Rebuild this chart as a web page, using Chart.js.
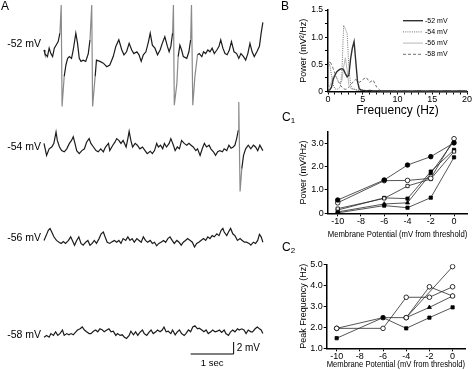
<!DOCTYPE html>
<html>
<head>
<meta charset="utf-8">
<script src="https://cdn.jsdelivr.net/npm/chart.js@4.4.0/dist/chart.umd.min.js"></script>
<style>
html, body { margin: 0; padding: 0; background: #fff; }
body { width: 474px; height: 370px; position: relative; overflow: hidden; font-family: "Liberation Sans", Arial, sans-serif; }
canvas { position: absolute; }
.panel { position: absolute; font-size: 12px; line-height: 12px; color: #000; }
.panel sub { font-size: 8px; vertical-align: -2px; }
</style>
</head>
<body>
<canvas id="traces" width="280" height="370" style="left:0px;top:0px"></canvas>
<canvas id="spectra" width="194" height="118" style="left:280px;top:0px"></canvas>
<canvas id="powerChart" width="194" height="120" style="left:280px;top:120px"></canvas>
<canvas id="freqChart" width="194" height="126" style="left:280px;top:244px"></canvas>
<div class="panel" style="left:1px;top:0px">A</div>
<div class="panel" style="left:281px;top:0px">B</div>
<div class="panel" style="left:282px;top:111px">C<sub>1</sub></div>
<div class="panel" style="left:282px;top:241px">C<sub>2</sub></div>
<script>
// --- A: membrane potential sweeps (time in s, voltage in mV relative to holding level)
const traceNames = ["-52 mV", "-54 mV", "-56 mV", "-58 mV"];

const t52 = [0.00,0.02,0.08,0.12,0.16,0.20,0.24,0.28,0.33,0.37,0.40,0.42,0.47,0.51,0.55,0.59,0.64,0.68,0.74,0.78,
  0.82,0.86,0.91,0.97,1.03,1.07,1.11,1.13,1.19,1.22,1.30,1.38,1.46,1.53,1.61,1.67,1.74,1.81,1.86,1.92,
  1.98,2.04,2.09,2.16,2.21,2.26,2.31,2.37,2.43,2.47,2.52,2.58,2.64,2.70,2.75,2.81,2.87,2.91,2.95,2.99,
  3.01,3.03,3.09,3.12,3.16,3.20,3.24,3.32,3.37,3.41,3.43,3.46,3.51,3.57,3.61,3.67,3.71,3.76,3.81,3.86,
  3.91,3.96,4.02,4.07,4.11,4.16,4.21,4.26,4.31,4.36,4.42,4.48,4.53,4.58,4.64,4.69,4.74,4.79,4.84,4.89,
  4.95,5.01,5.05,5.09];
const mv52 = [0.0,-0.6,-1.1,0.3,-0.6,-1.1,0.3,0.8,1.4,2.8,7.5,-9.4,-4.4,-2.5,-1.4,-1.1,-1.4,0.0,2.8,1.1,
  -1.4,-1.9,-1.7,-1.9,-0.6,1.7,7.5,-9.4,-4.4,-1.7,-1.9,-2.2,-2.8,-2.5,-1.1,0.6,1.7,0.0,-0.8,-0.3,
  1.1,0.0,-0.6,-0.3,-0.8,-1.9,-0.8,-0.3,1.4,2.8,0.8,0.3,-0.8,0.0,1.1,2.2,0.6,-0.3,0.6,2.8,
  7.5,-9.2,-5.6,-1.1,0.8,0.0,-1.1,-1.4,-0.3,1.7,7.5,-9.2,-4.4,-0.8,-0.6,-1.1,-0.3,-0.6,0.0,-0.3,
  0.3,-0.6,0.0,0.6,1.7,0.3,-0.6,-0.8,0.0,1.4,-0.3,-0.6,-1.4,-0.6,-1.1,-1.7,-0.6,1.1,-0.3,-1.1,
  -0.3,0.6,2.8,4.6];

const t54 = [0.00,0.06,0.12,0.18,0.23,0.28,0.31,0.36,0.41,0.47,0.53,0.59,0.64,0.68,0.72,0.76,0.82,0.88,0.94,0.99,
  1.05,1.09,1.15,1.21,1.26,1.32,1.38,1.43,1.50,1.53,1.60,1.65,1.69,1.74,1.79,1.84,1.91,1.95,1.98,2.02,
  2.06,2.12,2.17,2.23,2.29,2.35,2.40,2.47,2.52,2.57,2.62,2.66,2.71,2.76,2.80,2.85,2.91,2.95,3.01,3.05,
  3.10,3.15,3.20,3.26,3.32,3.37,3.42,3.47,3.53,3.57,3.63,3.68,3.73,3.78,3.84,3.88,3.94,3.99,4.04,4.09,
  4.15,4.19,4.25,4.30,4.35,4.40,4.44,4.48,4.52,4.53,4.56,4.60,4.64,4.69,4.75,4.81,4.87,4.92,4.97,5.02,
  5.09];
const mv54 = [0.6,-1.4,-0.3,0.0,0.6,2.5,1.1,0.0,-0.6,-0.8,-0.3,0.6,1.1,1.7,0.6,-0.6,-1.1,-0.6,-0.3,0.8,
  1.4,0.6,0.0,-0.6,-0.8,-0.3,-0.8,0.0,0.6,-0.6,0.3,0.8,1.4,1.1,0.6,1.1,0.0,1.4,2.6,1.1,
  0.0,0.6,0.3,-0.3,0.0,-0.6,-1.1,-0.7,-1.1,-0.6,0.6,0.0,0.3,-0.3,0.6,0.0,0.6,1.4,0.3,-0.6,
  0.0,-0.3,1.1,0.6,0.3,0.6,0.3,0.0,-0.6,-0.3,-1.4,-0.3,0.6,0.0,0.3,-0.3,-0.8,-1.4,-0.8,-0.6,
  -0.8,-0.3,-0.6,0.3,-0.2,0.0,0.3,1.4,2.8,7.5,-7.4,-3.6,-1.4,-0.3,0.3,-0.3,0.3,0.0,-0.6,0.3,
  -0.6];

const t56 = [0.00,0.05,0.10,0.14,0.18,0.23,0.29,0.35,0.40,0.45,0.50,0.57,0.62,0.66,0.71,0.76,0.81,0.86,0.91,0.97,
  1.02,1.07,1.12,1.17,1.22,1.28,1.33,1.38,1.42,1.47,1.53,1.59,1.64,1.69,1.74,1.79,1.84,1.90,1.95,2.00,
  2.05,2.10,2.16,2.21,2.26,2.31,2.36,2.41,2.47,2.52,2.57,2.62,2.67,2.72,2.78,2.83,2.88,2.93,2.98,3.03,
  3.09,3.14,3.19,3.24,3.29,3.34,3.40,3.45,3.50,3.55,3.60,3.65,3.71,3.76,3.81,3.86,3.91,3.96,4.02,4.07,
  4.12,4.16,4.19,4.25,4.29,4.34,4.39,4.44,4.50,4.56,4.61,4.66,4.71,4.77,4.81,4.87,4.92,4.97,5.01,5.05,
  5.09];
const mv56 = [-0.4,0.4,1.3,1.6,1.0,0.2,-0.4,-0.7,-0.9,-0.6,-0.9,-0.4,0.2,-0.4,-1.2,-0.4,0.2,-0.9,-1.2,-0.7,
  -0.4,-1.2,-0.9,-0.4,-0.9,-0.1,0.7,1.0,0.2,-0.7,-0.9,-0.6,-0.4,-0.7,-0.4,-0.9,-0.1,-0.4,0.2,-0.4,
  -0.1,-0.7,-0.1,-0.4,-0.7,0.2,-0.4,-0.7,-0.4,-0.9,-0.7,-1.3,-0.9,-0.7,-0.4,-0.7,-0.1,0.2,-0.4,-0.9,
  -0.4,-0.7,-1.2,-0.7,-0.4,-0.1,-0.4,-0.7,-1.5,-0.9,-0.7,-0.4,-0.1,-0.4,0.2,-0.1,0.4,0.2,0.7,0.4,
  1.3,1.6,1.0,0.4,1.0,1.6,0.7,0.4,-0.4,-0.1,-0.4,-0.7,-0.7,-0.9,-1.2,-0.7,-0.9,-0.4,0.6,0.2,
  -0.7];

const t58 = [0.00,0.06,0.12,0.16,0.22,0.27,0.32,0.37,0.43,0.47,0.53,0.58,0.63,0.68,0.74,0.78,0.84,0.89,0.94,0.99,
  1.05,1.09,1.15,1.20,1.25,1.30,1.36,1.40,1.46,1.51,1.56,1.61,1.67,1.71,1.77,1.82,1.87,1.92,1.98,2.02,
  2.08,2.13,2.18,2.23,2.29,2.33,2.39,2.44,2.49,2.54,2.60,2.64,2.70,2.75,2.79,2.84,2.89,2.95,2.99,3.05,
  3.10,3.15,3.20,3.26,3.30,3.36,3.41,3.46,3.51,3.57,3.61,3.67,3.72,3.77,3.82,3.88,3.92,3.98,4.03,4.08,
  4.13,4.19,4.23,4.29,4.34,4.39,4.44,4.50,4.54,4.60,4.65,4.70,4.75,4.81,4.85,4.91,4.96,5.01,5.05,5.09];
const mv58 = [-0.6,-0.3,-0.6,0.0,-0.3,0.3,-0.3,0.0,0.6,-0.3,0.0,-0.2,0.0,-0.2,0.3,0.6,0.8,1.1,0.6,0.3,
  0.0,0.0,0.4,0.6,0.3,0.8,0.6,0.3,0.6,0.8,0.3,0.4,-0.3,0.0,-0.3,-0.2,-0.6,-0.8,-0.3,0.4,
  -0.2,0.3,-0.3,0.2,0.6,0.0,-0.3,0.2,0.6,0.0,0.3,0.6,0.3,0.6,1.1,0.3,0.4,0.0,0.6,-0.2,
  0.3,0.6,0.0,-0.3,0.0,0.6,0.3,1.1,1.3,0.8,0.9,0.6,0.3,0.6,0.0,0.3,0.6,0.3,0.4,0.6,
  0.2,0.6,0.0,-0.3,0.3,0.6,0.3,0.8,0.6,0.8,0.6,0.0,0.6,0.3,0.3,0.8,1.1,0.8,0.6,0.0];

// scale bar
const barSec = 1, barMv = 2;

// --- B: power spectra
const freqHz = [0,0.25,0.5,0.75,1,1.25,1.5,1.75,2,2.25,2.5,2.75,3,3.25,3.5,3.75,4,4.25,4.5,4.75,
  5,5.5,6,6.5,7,7.5,8,9,10,11,12,13,14,15,16,17,18,19,20];
const pow52 = [0.02,0.03,0.08,0.22,0.30,0.36,0.39,0.41,0.42,0.40,0.33,0.27,0.30,0.60,0.80,0.92,0.55,0.18,0.05,0.03,
  0.02,0.01,0.02,0.01,0.01,0.01,0.01,0.01,0.005,0.01,0.005,0.01,0.005,0.01,0.005,0.01,0.005,0.01,0.005];
const pow54 = [0.45,0.50,0.30,0.12,0.05,0.04,0.05,0.08,0.35,1.22,1.15,1.07,0.45,0.12,0.05,0.04,0.03,0.03,0.02,0.02,
  0.02,0.01,0.01,0.01,0.01,0.01,0.01,0.01,0.01,0.01,0.01,0.01,0.01,0.01,0.01,0.01,0.01,0.01,0.01];
const pow56 = [0.05,0.10,0.18,0.28,0.30,0.25,0.18,0.15,0.20,0.45,0.62,0.40,0.12,0.06,0.04,0.05,0.03,0.02,0.02,0.02,
  0.03,0.02,0.02,0.01,0.02,0.01,0.01,0.01,0.01,0.01,0.01,0.01,0.01,0.01,0.01,0.01,0.01,0.01,0.01];
const pow58 = [0.50,0.56,0.50,0.42,0.33,0.25,0.18,0.12,0.08,0.05,0.04,0.05,0.08,0.12,0.16,0.20,0.22,0.20,0.17,0.19,
  0.22,0.26,0.17,0.21,0.08,0.02,0.01,0.01,0.01,0.01,0.01,0.01,0.01,0.01,0.01,0.01,0.01,0.01,0.01];
const freqTickLabels = [0, 5, 10, 15, 20];
const powTickLabels = [0, 0.5, 1.0, 1.5];

// --- C1 / C2: power and peak frequency vs membrane potential, one series per cell
const vmFromThreshold = [-10, -6, -4, -2, 0];
const powerCells = [
  [0.57, 1.43, 2.07, 2.43, 3.02],
  [0.45, 1.40, 1.41, 1.50, 3.20],
  [0.20, 0.64, 1.17, 1.47, 2.65],
  [0.14, 0.66, 0.63, 1.79, 2.72],
  [0.06, 0.40, 0.45, 1.71, 3.10],
  [0.02, 0.33, 0.24, 0.67, 2.40]
];
const peakFreqCells = [
  [1.95, 1.95, 3.43, 3.43, 3.93],
  [1.48, 2.46, 1.95, 2.46, 2.95],
  [1.95, 2.46, 2.46, 3.93, 3.49],
  [null, null, 2.46, null, 4.89],
  [null, null, 2.46, 2.95, 3.49]
];
const vmTickLabels = [-10, -8, -6, -4, -2, 0];
const c1TickLabels = [0, 1, 2, 3];
const c2TickLabels = [1, 2, 3, 4, 5];

// ---------------------------------------------------------------------------
const FONT = '"Liberation Sans", Arial, sans-serif';
Chart.defaults.font.family = FONT;
Chart.defaults.color = "#000";
Chart.defaults.animation = false;

// offsets that stack the sweeps on the page (mV, in plot units)
const sweepOffset = [-8.33, -24.5, -39.67, -55.6];
const sweepLabelShift = [-6, 0, 0, 2];
const sweeps = [[t52, mv52], [t54, mv54], [t56, mv56], [t58, mv58]];
const barStart = { t: 3.41, mv: -59 };

const sweepText = {
    id: "sweepText",
    afterDraw(chart) {
        const { ctx, scales: { x, y } } = chart;
        ctx.save();
        ctx.fillStyle = "#000";
        ctx.font = "10.5px " + FONT;
        ctx.textAlign = "right";
        ctx.textBaseline = "middle";
        traceNames.forEach((name, i) => {
            ctx.fillText(name, x.getPixelForValue(0) - 3, y.getPixelForValue(sweepOffset[i]) + sweepLabelShift[i]);
        });
        // scale bar labels
        ctx.font = "10px " + FONT;
        ctx.textAlign = "left";
        ctx.fillText(barMv + " mV", x.getPixelForValue(barStart.t + barSec) + 3, y.getPixelForValue(barStart.mv + barMv / 2));
        ctx.font = "9.5px " + FONT;
        ctx.textAlign = "center";
        ctx.fillText(barSec + " sec", x.getPixelForValue(barStart.t + barSec / 2), y.getPixelForValue(barStart.mv) + 9);
        ctx.restore();
    }
};

// fast spike strokes came out faint on the original recording
const spikeGrey = c => Math.abs(c.p1.parsed.y - c.p0.parsed.y) > 3 ? "#8a8a8a" : undefined;

const traceDatasets = sweeps.map(([ts, vs], i) => ({
    data: ts.map((t, k) => ({ x: t, y: sweepOffset[i] + vs[k] })),
    borderColor: "#1c1c1c",
    borderWidth: 1.2,
    segment: { borderColor: spikeGrey },
    pointRadius: 0,
    tension: 0
}));
traceDatasets.push({
    data: [
        { x: barStart.t, y: barStart.mv },
        { x: barStart.t + barSec, y: barStart.mv },
        { x: barStart.t + barSec, y: barStart.mv + barMv }
    ],
    borderColor: "#000",
    borderWidth: 1,
    pointRadius: 0,
    tension: 0
});

new Chart(document.getElementById("traces"), {
    type: "line",
    data: { datasets: traceDatasets },
    options: {
        responsive: false,
        devicePixelRatio: 1,
        layout: { padding: 0 },
        plugins: { legend: { display: false }, tooltip: { enabled: false } },
        scales: {
            x: { type: "linear", display: false, min: -44 / 43, max: 236 / 43 },
            y: { type: "linear", display: false, min: -370 / 6, max: 0 }
        }
    },
    plugins: [sweepText]
});

// shared axis builder
function axis(opts) {
    return {
        type: "linear",
        min: opts.min,
        max: opts.max,
        border: { display: true, color: "#000", width: 1.5 },
        grid: { display: true, drawOnChartArea: false, drawTicks: true, tickLength: 3, color: "#000", lineWidth: 1 },
        ticks: {
            autoSkip: false,
            maxRotation: 0,
            padding: opts.pad,
            font: { size: opts.tickSize || 9 },
            color: "#000",
            callback: opts.label
        },
        title: { display: true, text: opts.title, font: { size: opts.titleSize || 9 }, padding: 0, color: "#000" },
        afterBuildTicks: s => { s.ticks = opts.ticks.map(v => ({ value: v })); },
        afterFit: s => { if (opts.width) s.width = opts.width; if (opts.height) s.height = opts.height; }
    };
}

// --- B
const spectraSeries = [
    { label: "-52 mV", data: pow52, color: "#303030", width: 1.4, dash: [] },
    { label: "-54 mV", data: pow54, color: "#707070", width: 1, dash: [1, 1.2] },
    { label: "-56 mV", data: pow56, color: "#b8b8b8", width: 1, dash: [] },
    { label: "-58 mV", data: pow58, color: "#606060", width: 0.9, dash: [3, 2] }
];

const spectraLegend = {
    id: "spectraLegend",
    afterDraw(chart) {
        const ctx = chart.ctx;
        ctx.save();
        ctx.font = "7px " + FONT;
        ctx.textBaseline = "middle";
        chart.data.datasets.forEach((ds, i) => {
            const y = 20.7 + i * 11.2;
            ctx.strokeStyle = ds.borderColor;
            ctx.lineWidth = ds.borderWidth;
            ctx.setLineDash(ds.borderDash);
            ctx.beginPath();
            ctx.moveTo(123, y);
            ctx.lineTo(143, y);
            ctx.stroke();
            ctx.setLineDash([]);
            ctx.fillStyle = "#000";
            ctx.fillText(ds.label, 145, y);
        });
        ctx.restore();
    }
};

new Chart(document.getElementById("spectra"), {
    type: "line",
    data: {
        datasets: spectraSeries.map(s => ({
            label: s.label,
            data: freqHz.map((f, i) => ({ x: f, y: s.data[i] })),
            borderColor: s.color,
            borderWidth: s.width,
            borderDash: s.dash,
            pointRadius: 0,
            tension: 0
        }))
    },
    options: {
        responsive: false,
        devicePixelRatio: 1,
        layout: { padding: { left: 18, right: 7, top: 10, bottom: 0 } },
        plugins: { legend: { display: false }, tooltip: { enabled: false } },
        scales: {
            x: axis({
                min: 0, max: 20, pad: 0, height: 26.5, title: "Frequency (Hz)", titleSize: 12,
                ticks: freqHz.filter(f => Number.isInteger(f)),
                label: v => freqTickLabels.includes(v) ? String(v) : ""
            }),
            y: axis({
                min: 0, max: 1.5, pad: 2, width: 30, title: "Power (mV\u00B2/Hz)", tickSize: 8.5,
                ticks: [0, 0.25, 0.5, 0.75, 1, 1.25, 1.5],
                label: v => powTickLabels.includes(v) ? (v === 0 ? "0" : v.toFixed(1)) : ""
            })
        }
    },
    plugins: [spectraLegend]
});

// --- C1 / C2 markers
const powerStyles = [
    { shape: "circle", fill: "#000" },
    { shape: "circle", fill: "#fff" },
    { shape: "rect", fill: "#fff" },
    { shape: "rect", fill: "#000" },
    { shape: "triangle", fill: "#000" },
    { shape: "rect", fill: "#000" }
];
const freqStyles = [
    { shape: "circle", fill: "#fff" },
    { shape: "rect", fill: "#000" },
    { shape: "circle", fill: "#fff" },
    { shape: "circle", fill: "#fff" },
    { shape: "triangle", fill: "#000" }
];

function cellDatasets(cells, styles) {
    return cells.map((vals, i) => ({
        data: vmFromThreshold.map((v, k) => ({ x: v, y: vals[k] })),
        borderColor: "#2a2a2a",
        borderWidth: 0.8,
        pointStyle: styles[i].shape,
        pointRadius: 2.3,
        pointBorderWidth: 0.8,
        pointBorderColor: "#000",
        pointBackgroundColor: styles[i].fill,
        spanGaps: true,
        tension: 0
    }));
}

new Chart(document.getElementById("powerChart"), {
    type: "line",
    data: { datasets: cellDatasets(powerCells, powerStyles) },
    options: {
        responsive: false,
        devicePixelRatio: 1,
        layout: { padding: { left: 18, right: 6.7, top: 11.7, bottom: 0 } },
        plugins: { legend: { display: false }, tooltip: { enabled: false } },
        scales: {
            x: axis({
                min: -10.86, max: 1.14, pad: 0, height: 26.7, title: "Membrane Potential (mV from threshold)", titleSize: 8.4,
                ticks: vmTickLabels, label: v => String(v)
            }),
            y: axis({
                min: 0, max: 3.5, pad: 1, width: 29.7, title: "Power (mV\u00B2/Hz)",
                ticks: c1TickLabels, label: v => v === 0 ? "0" : v.toFixed(1)
            })
        }
    }
});

new Chart(document.getElementById("freqChart"), {
    type: "line",
    data: { datasets: cellDatasets(peakFreqCells, freqStyles) },
    options: {
        responsive: false,
        devicePixelRatio: 1,
        layout: { padding: { left: 18, right: 9, top: 20.3, bottom: 0 } },
        plugins: { legend: { display: false }, tooltip: { enabled: false } },
        scales: {
            x: axis({
                min: -10.86, max: 1.07, pad: 0, height: 21.7, title: "Membrane Potential (mV from threshold)", titleSize: 8.4,
                ticks: vmTickLabels, label: v => String(v)
            }),
            y: axis({
                min: 1, max: 5, pad: 1, width: 28.7, title: "Peak Frequency (Hz)",
                ticks: c2TickLabels, label: v => v.toFixed(1)
            })
        }
    }
});
</script>
</body>
</html>
